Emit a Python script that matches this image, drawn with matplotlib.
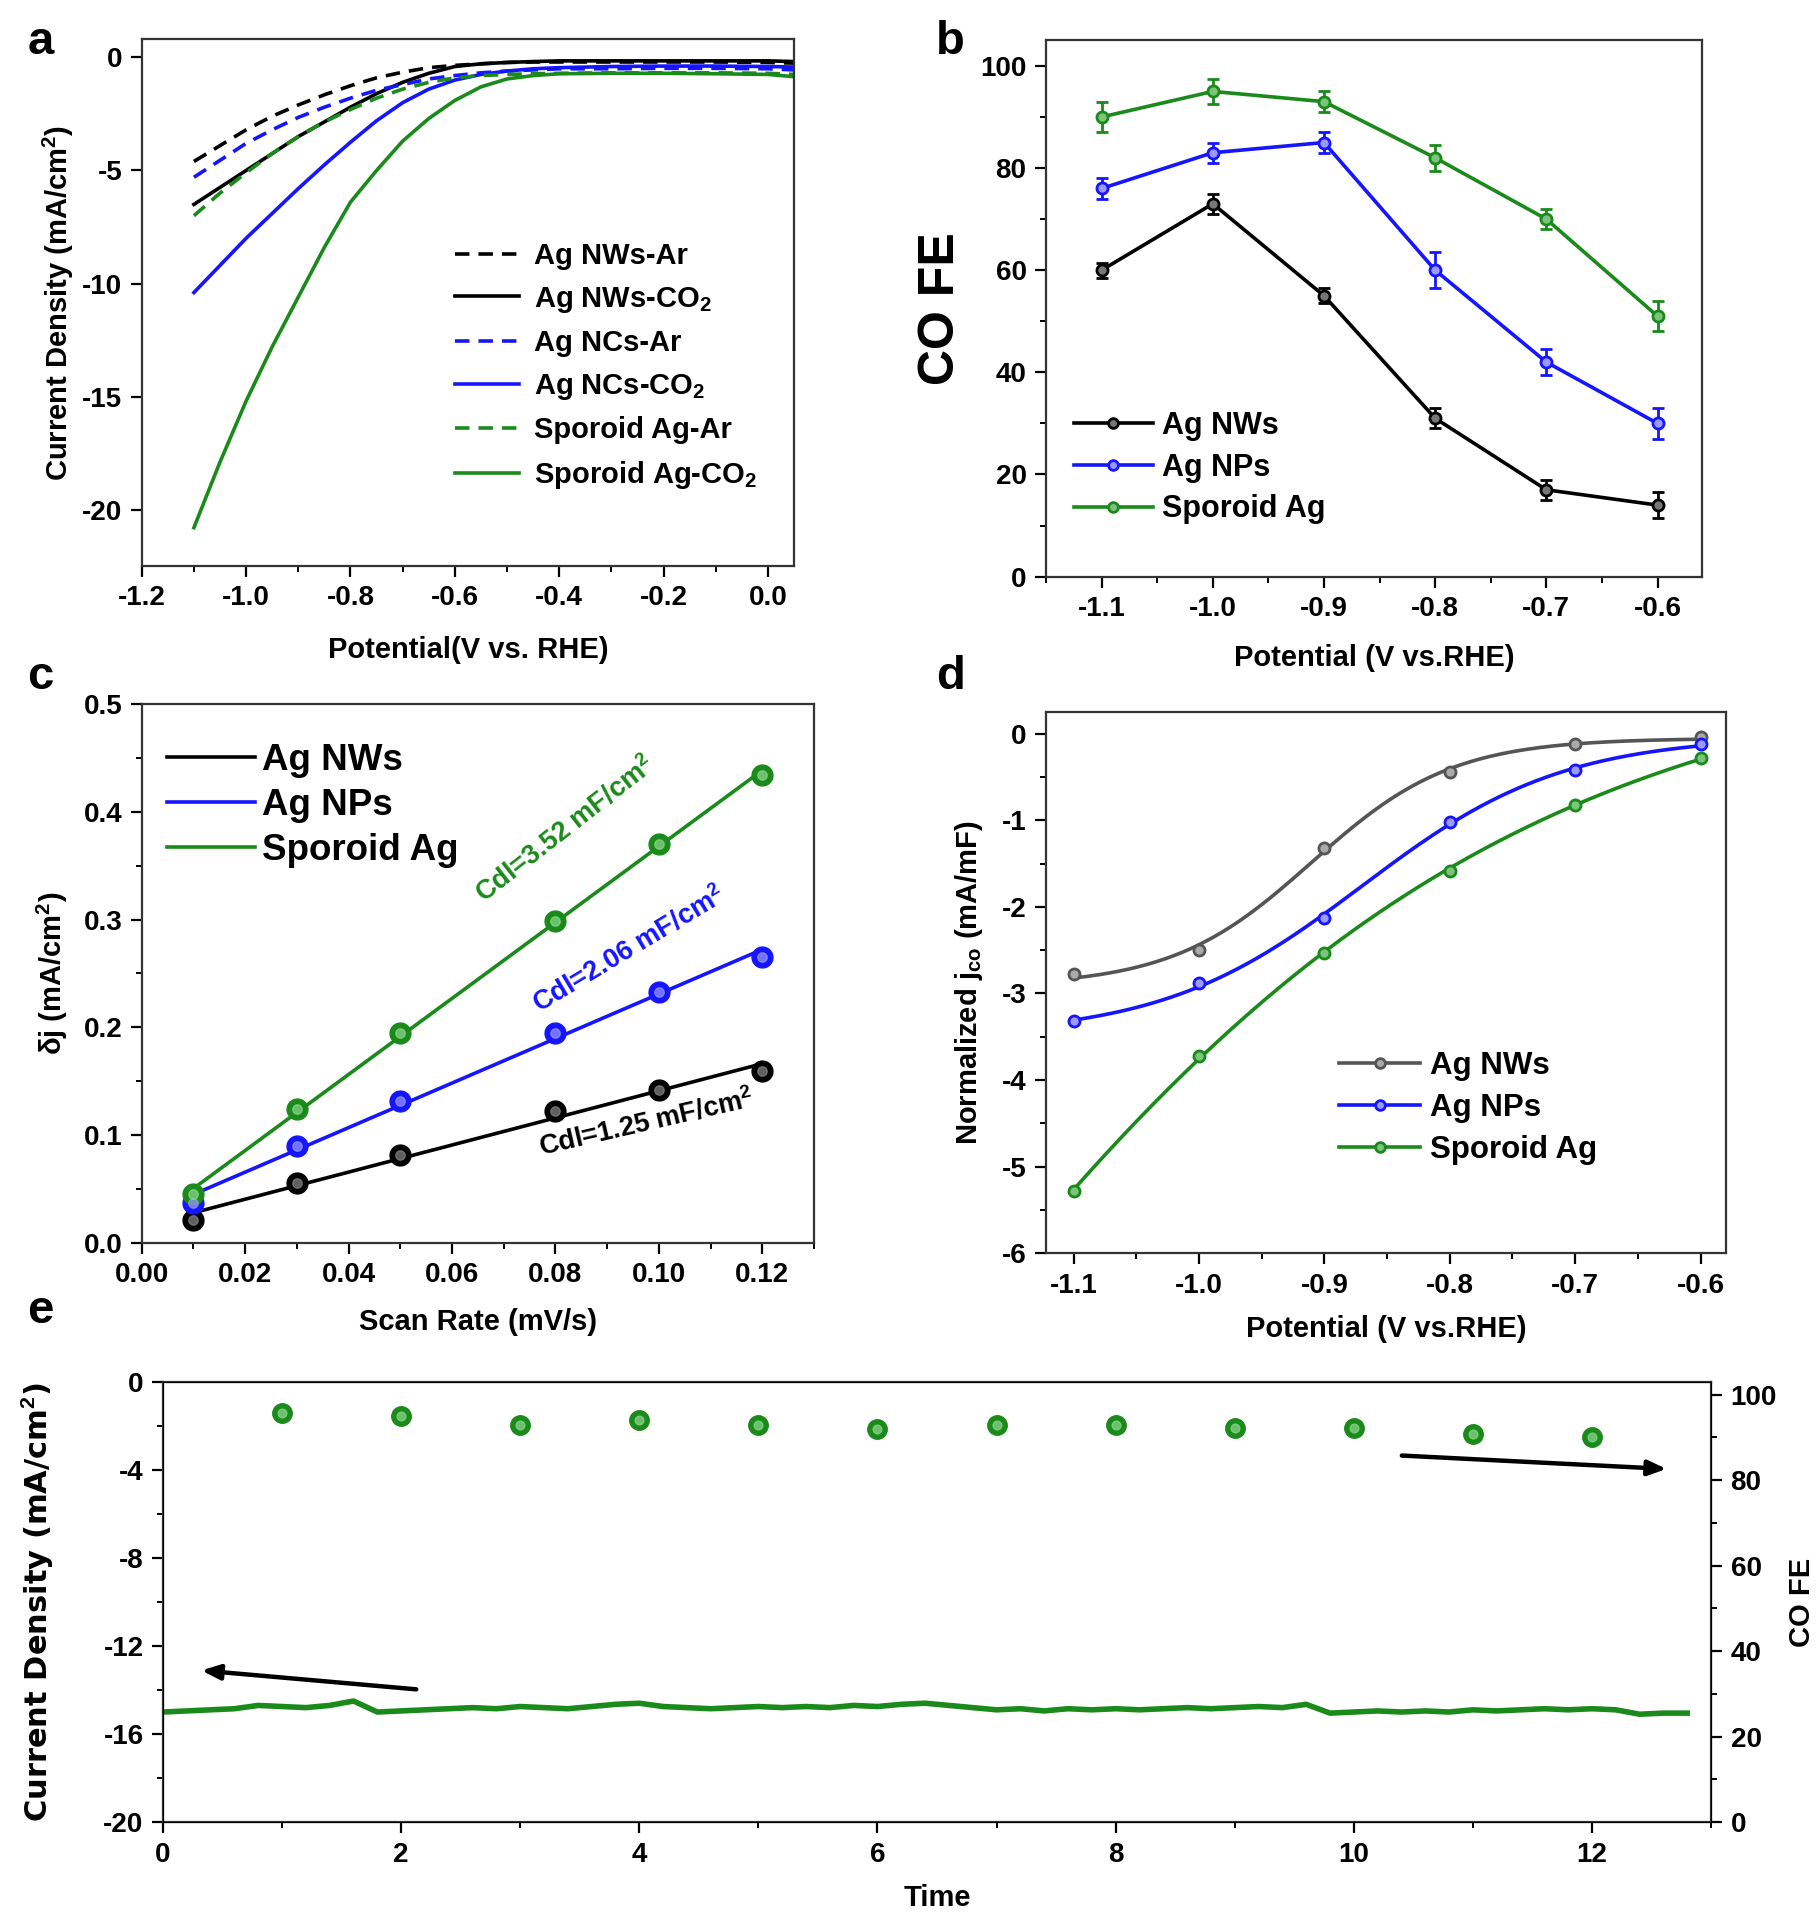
import numpy as np
import matplotlib.pyplot as plt
from matplotlib.ticker import MultipleLocator
from matplotlib.lines import Line2D

plt.rcParams['font.family'] = ['Liberation Sans', 'DejaVu Sans']
plt.rcParams['font.weight'] = 'bold'
plt.rcParams['axes.labelweight'] = 'bold'
plt.rcParams['axes.unicode_minus'] = False
plt.rcParams['mathtext.fontset'] = 'custom'
plt.rcParams['mathtext.rm'] = 'Liberation Sans:bold'
plt.rcParams['mathtext.it'] = 'Liberation Sans:bold'
plt.rcParams['mathtext.bf'] = 'Liberation Sans:bold'
plt.rcParams['mathtext.default'] = 'rm'

BLACK = '#000000'
BLUE = '#1515ff'
GREEN = '#1a8a1a'
GREY = '#555555'

# ---- panel a: LSV curves
lsv_v = [-1.1, -1.05, -1.0, -0.95, -0.9, -0.85, -0.8, -0.75, -0.7, -0.65,
         -0.6, -0.55, -0.5, -0.45, -0.4, -0.3, -0.2, -0.1, 0.0, 0.05]
nw_ar = [-4.6, -3.9, -3.2, -2.6, -2.1, -1.65, -1.25, -0.9, -0.65, -0.45,
         -0.35, -0.28, -0.22, -0.2, -0.2, -0.2, -0.2, -0.2, -0.22, -0.25]
nw_co2 = [-6.5, -5.75, -5.0, -4.25, -3.5, -2.85, -2.2, -1.6, -1.1, -0.7,
          -0.4, -0.28, -0.22, -0.18, -0.15, -0.15, -0.15, -0.15, -0.15, -0.18]
nc_ar = [-5.3, -4.55, -3.8, -3.2, -2.65, -2.2, -1.8, -1.45, -1.2, -0.95,
         -0.8, -0.68, -0.6, -0.55, -0.5, -0.5, -0.48, -0.48, -0.5, -0.55]
nc_co2 = [-10.4, -9.2, -8.0, -6.9, -5.8, -4.75, -3.75, -2.8, -2.0, -1.4,
          -1.0, -0.75, -0.6, -0.5, -0.45, -0.4, -0.38, -0.38, -0.4, -0.42]
sp_ar = [-7.0, -6.0, -5.1, -4.25, -3.5, -2.85, -2.3, -1.8, -1.4, -1.1,
         -0.9, -0.8, -0.75, -0.72, -0.7, -0.68, -0.68, -0.68, -0.7, -0.75]
sp_co2 = [-20.8, -17.9, -15.2, -12.8, -10.6, -8.4, -6.4, -5.0, -3.7, -2.7,
          -1.9, -1.3, -0.95, -0.8, -0.72, -0.7, -0.7, -0.72, -0.75, -0.85]

# ---- panel b: CO FE vs potential
pot = [-1.1, -1.0, -0.9, -0.8, -0.7, -0.6]
fe_nw = [60, 73, 55, 31, 17, 14]
fe_nw_err = [1.5, 2, 1.5, 2, 2, 2.5]
fe_np = [76, 83, 85, 60, 42, 30]
fe_np_err = [2, 2, 2, 3.5, 2.5, 3]
fe_sp = [90, 95, 93, 82, 70, 51]
fe_sp_err = [3, 2.5, 2, 2.5, 2, 3]

# ---- panel c: double layer capacitance
scan = [0.01, 0.03, 0.05, 0.08, 0.10, 0.12]
dj_nw = [0.021, 0.056, 0.082, 0.122, 0.142, 0.160]
dj_np = [0.037, 0.090, 0.132, 0.195, 0.233, 0.265]
dj_sp = [0.045, 0.124, 0.195, 0.299, 0.370, 0.434]

# ---- panel d: normalized jCO
jn_nw = [-2.78, -2.5, -1.32, -0.44, -0.12, -0.04]
jn_np = [-3.32, -2.88, -2.13, -1.02, -0.42, -0.12]
jn_sp = [-5.28, -3.72, -2.53, -1.58, -0.82, -0.28]

# ---- panel e: stability
cur_j = [-15.0, -14.95, -14.9, -14.85, -14.7, -14.75, -14.8, -14.7, -14.5, -15.0,
         -14.95, -14.9, -14.85, -14.8, -14.85, -14.75, -14.8, -14.85, -14.75, -14.65,
         -14.6, -14.75, -14.8, -14.85, -14.8, -14.75, -14.8, -14.75, -14.8, -14.7,
         -14.75, -14.65, -14.6, -14.7, -14.8, -14.9, -14.85, -14.95, -14.85, -14.9,
         -14.85, -14.9, -14.85, -14.8, -14.85, -14.8, -14.75, -14.8, -14.65, -15.05,
         -15.0, -14.95, -15.0, -14.95, -15.0, -14.9, -14.95, -14.9, -14.85, -14.9,
         -14.85, -14.9, -15.1, -15.05, -15.05]
fe_time = [1, 2, 3, 4, 5, 6, 7, 8, 9, 10, 11, 12]
fe_stab = [95.8, 95.0, 92.9, 94.0, 92.9, 92.0, 92.9, 92.9, 92.1, 92.1, 90.9, 90.0]

TICK = 20
LAB = 21


def style(ax, xmaj, xmin, ymaj, ymin):
    ax.xaxis.set_major_locator(MultipleLocator(xmaj))
    ax.xaxis.set_minor_locator(MultipleLocator(xmin))
    ax.yaxis.set_major_locator(MultipleLocator(ymaj))
    if ymin:
        ax.yaxis.set_minor_locator(MultipleLocator(ymin))
    ax.tick_params(which='major', direction='out', length=8, width=1.6, labelsize=TICK, pad=6)
    ax.tick_params(which='minor', direction='out', length=4, width=1.4)
    for s in ax.spines.values():
        s.set_linewidth(1.6)
        s.set_color('#333333')


def sphere(ax, x, y, c, light, ms):
    ax.plot(x, y, 'o', ms=ms, mfc=c, mec=c, zorder=4)
    ax.plot(x, y, 'o', ms=ms * 0.45, mfc=light, mec=light, alpha=0.7, zorder=5)


def boltzmann_fit(x, y, grid):
    # brute force over x0, dx; amplitudes by least squares
    x = np.asarray(x)
    y = np.asarray(y)
    best = None
    for x0 in np.linspace(-1.3, -0.5, 161):
        for dx in np.linspace(0.02, 0.4, 96):
            s = 1.0 / (1.0 + np.exp((x - x0) / dx))
            A = np.column_stack([np.ones_like(s), s])
            coef, res, _, _ = np.linalg.lstsq(A, y, rcond=None)
            err = np.sum((A @ coef - y) ** 2)
            if best is None or err < best[0]:
                best = (err, x0, dx, coef)
    _, x0, dx, coef = best
    sg = 1.0 / (1.0 + np.exp((grid - x0) / dx))
    return coef[0] + coef[1] * sg


fig = plt.figure(figsize=(18.17, 19.22), dpi=100)

# panel a
ax = fig.add_axes([0.078, 0.7055, 0.359, 0.274])
ax.plot(lsv_v, nw_ar, color=BLACK, lw=2.6, dashes=(4, 2.5), label='Ag NWs-Ar')
ax.plot(lsv_v, nw_co2, color=BLACK, lw=2.6, label='Ag NWs-CO$_2$')
ax.plot(lsv_v, nc_ar, color=BLUE, lw=2.6, dashes=(4, 2.5), label='Ag NCs-Ar')
ax.plot(lsv_v, nc_co2, color=BLUE, lw=2.6, label='Ag NCs-CO$_2$')
ax.plot(lsv_v, sp_ar, color=GREEN, lw=2.6, dashes=(4, 2.5), label='Sporoid Ag-Ar')
ax.plot(lsv_v, sp_co2, color=GREEN, lw=2.6, label='Sporoid Ag-CO$_2$')
ax.set_xlim(-1.2, 0.05)
ax.set_ylim(-22.5, 0.8)
style(ax, 0.2, 0.1, 5, None)
ax.xaxis.set_major_formatter(plt.FuncFormatter(lambda v, p: '%.1f' % v))
ax.set_xlabel('Potential(V vs. RHE)', fontsize=LAB, labelpad=18)
ax.set_ylabel('Current Density (mA/cm$^2$)', fontsize=LAB)
ax.legend(loc='upper left', bbox_to_anchor=(0.44, 0.665), frameon=False, fontsize=21,
          handlelength=2.2, handletextpad=0.5, labelspacing=0.5)
fig.text(0.015, 0.978, 'a', fontsize=34, fontweight='bold', va='center')

# panel b
ax = fig.add_axes([0.5757, 0.700, 0.361, 0.279])
handles = []
for y, e, c, lt, lab in [(fe_nw, fe_nw_err, BLACK, '#777777', 'Ag NWs'),
                         (fe_np, fe_np_err, BLUE, '#9a9aff', 'Ag NPs'),
                         (fe_sp, fe_sp_err, GREEN, '#7cc47c', 'Sporoid Ag')]:
    ax.errorbar(pot, y, yerr=e, color=c, lw=2.6, marker='o', ms=8, mfc=lt, mec=c, mew=2,
                capsize=4, capthick=2, elinewidth=2)
    handles.append(Line2D([], [], color=c, lw=2.6, marker='o', ms=7, mfc=lt, mec=c, mew=2, label=lab))
ax.set_xlim(-1.15, -0.56)
ax.set_ylim(0, 105)
style(ax, 0.1, 0.05, 20, 10)
ax.xaxis.set_major_formatter(plt.FuncFormatter(lambda v, p: '%.1f' % v))
ax.set_xlabel('Potential (V vs.RHE)', fontsize=LAB, labelpad=16)
ax.set_ylabel('CO FE', fontsize=36, labelpad=12)
ax.legend(handles=handles, loc='upper left', bbox_to_anchor=(0.0, 0.36), frameon=False, fontsize=22,
          handlelength=2.6, handletextpad=0.3, labelspacing=0.38)
fig.text(0.515, 0.978, 'b', fontsize=34, fontweight='bold', va='center')

# panel c
ax = fig.add_axes([0.078, 0.3533, 0.370, 0.2804])
for y, c, lt, lab in [(dj_nw, BLACK, '#888888', 'Ag NWs'),
                      (dj_np, BLUE, '#9a9aff', 'Ag NPs'),
                      (dj_sp, GREEN, '#8fd88f', 'Sporoid Ag')]:
    k, b0 = np.polyfit(scan, y, 1)
    ax.plot([scan[0], scan[-1]], [k * scan[0] + b0, k * scan[-1] + b0], color=c, lw=2.6, label=lab)
    sphere(ax, scan, y, c, lt, 15)
ax.text(0.067, 0.310, 'Cdl=3.52 mF/cm$^2$', color=GREEN, fontsize=19.5, rotation=38,
        ha='left', va='bottom', rotation_mode='anchor')
ax.text(0.0775, 0.208, 'Cdl=2.06 mF/cm$^2$', color=BLUE, fontsize=19.5, rotation=31,
        ha='left', va='bottom', rotation_mode='anchor')
ax.text(0.0775, 0.075, 'Cdl=1.25 mF/cm$^2$', color=BLACK, fontsize=19.5, rotation=13,
        ha='left', va='bottom', rotation_mode='anchor')
ax.set_xlim(0, 0.13)
ax.set_ylim(0, 0.5)
style(ax, 0.02, 0.01, 0.1, 0.05)
ax.xaxis.set_major_formatter(plt.FuncFormatter(lambda v, p: '%.2f' % v))
ax.yaxis.set_major_formatter(plt.FuncFormatter(lambda v, p: '%.1f' % v))
ax.set_xlabel('Scan Rate (mV/s)', fontsize=LAB, labelpad=14)
ax.set_ylabel('δj (mA/cm$^2$)', fontsize=LAB, labelpad=10)
ax.legend(loc='upper left', bbox_to_anchor=(-0.012, 0.99), frameon=False, fontsize=26.5,
          handlelength=2.4, handletextpad=0.2, labelspacing=0.28)
fig.text(0.015, 0.648, 'c', fontsize=34, fontweight='bold', va='center')

# panel d
ax = fig.add_axes([0.5757, 0.348, 0.374, 0.2815])
fine = np.linspace(pot[0], pot[-1], 200)
for y, c, lt, lab in [(jn_nw, GREY, '#aaaaaa', 'Ag NWs'),
                      (jn_np, BLUE, '#9a9aff', 'Ag NPs'),
                      (jn_sp, GREEN, '#7cc47c', 'Sporoid Ag')]:
    ax.plot(fine, boltzmann_fit(pot, y, fine), color=c, lw=2.6)
    ax.plot(pot, y, 'o', ms=8, mfc=lt, mec=c, mew=2, zorder=4)
    ax.plot([], [], color=c, lw=2.6, marker='o', ms=7, mfc=lt, mec=c, mew=2, label=lab)
ax.set_xlim(-1.122, -0.58)
ax.set_ylim(-6, 0.25)
style(ax, 0.1, 0.05, 1, 0.5)
ax.xaxis.set_major_formatter(plt.FuncFormatter(lambda v, p: '%.1f' % v))
ax.yaxis.set_major_formatter(plt.FuncFormatter(lambda v, p: '%d' % round(v)))
ax.set_xlabel('Potential (V vs.RHE)', fontsize=LAB, labelpad=12)
ax.set_ylabel('Normalized j$_{co}$ (mA/mF)', fontsize=LAB, labelpad=12)
ax.legend(loc='upper left', bbox_to_anchor=(0.39, 0.425), frameon=False, fontsize=22.5,
          handlelength=2.6, handletextpad=0.3, labelspacing=0.38)
fig.text(0.515, 0.648, 'd', fontsize=34, fontweight='bold', va='center')

# panel e
ax = fig.add_axes([0.0897, 0.052, 0.852, 0.229])
t = np.linspace(0, 12.8, len(cur_j))
ax.plot(t, cur_j, color=GREEN, lw=4)
ax.set_xlim(0, 13)
ax.set_ylim(-20, 0)
style(ax, 2, 1, 4, 2)
ax.set_xlabel('Time', fontsize=LAB, labelpad=12)
ax.set_ylabel('Current Density (mA/cm$^2$)', fontsize=22, labelpad=34,
              family=['DejaVu Sans'])
ax.annotate('', xy=(0.3, -13.1), xytext=(2.15, -13.98),
            arrowprops=dict(arrowstyle='-|>,head_length=1.1,head_width=0.45', color=BLACK, lw=3.2))
ax2 = ax.twinx()
sphere(ax2, fe_time, fe_stab, GREEN, '#8fd88f', 14)
ax2.set_ylim(0, 103)
ax2.yaxis.set_major_locator(MultipleLocator(20))
ax2.yaxis.set_minor_locator(MultipleLocator(10))
ax2.tick_params(which='major', direction='out', length=8, width=1.6, labelsize=TICK, pad=6)
ax2.tick_params(which='minor', direction='out', length=4, width=1.4)
ax2.set_ylabel('CO FE', fontsize=LAB, labelpad=8)
ax2.annotate('', xy=(12.65, 82.6), xytext=(10.38, 85.8),
             arrowprops=dict(arrowstyle='-|>,head_length=1.1,head_width=0.45', color=BLACK, lw=3.2))
fig.text(0.015, 0.318, 'e', fontsize=34, fontweight='bold', va='center')

fig.savefig('out.png', dpi=100)
